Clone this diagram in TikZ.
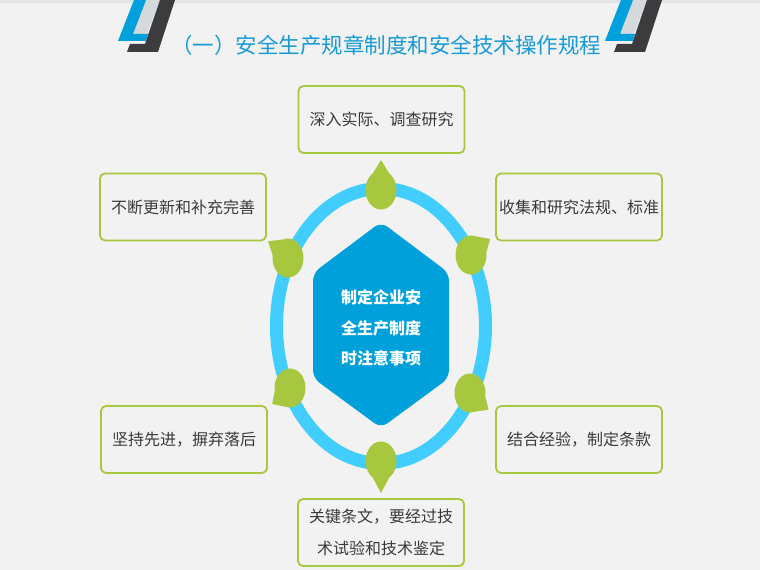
\documentclass[tikz,border=0pt]{standalone}
\usepackage{fontspec}
\newfontfamily\cjk{Noto Sans CJK SC}
\usetikzlibrary{calc}
\definecolor{bgGray}{RGB}{242,242,242}
\definecolor{stripGray}{RGB}{226,228,230}
\definecolor{markBlue}{RGB}{0,160,220}
\definecolor{markGray}{RGB}{214,217,220}
\definecolor{markDark}{RGB}{60,60,62}
\definecolor{titleBlue}{RGB}{22,155,215}
\definecolor{ringBlue}{RGB}{66,205,255}
\definecolor{hexBlue}{RGB}{0,161,218}
\definecolor{leafGreen}{RGB}{166,199,62}
\definecolor{textGray}{RGB}{58,58,58}

\begin{document}
\begin{tikzpicture}[x=1pt,y=1pt,
  rulebox/.style={draw=leafGreen, line width=1.8pt, rounded corners=5pt, fill=bgGray,
    minimum width=166pt, minimum height=67pt, inner sep=2pt, align=center,
    text=textGray, font=\cjk\fontsize{16}{32}\selectfont},
  hexlabel/.style={align=center, text=white, font=\cjk\bfseries\fontsize{16}{30.5}\selectfont}]
% Page
\fill[bgGray] (0,0) rectangle (760,570);
\useasboundingbox (0,0) rectangle (760,570);
\fill[stripGray] (0,567) rectangle (760,570);

% Corner marks (left and right of the title)
\foreach \dx in {0,487}{
  \begin{scope}[shift={(\dx,0)}]
    \fill[markGray] (143,570) -- (160,570) -- (147,536) -- (130,536) -- cycle;
    \fill[markBlue] (134,570) -- (146,570) -- (133,536) -- (148,536) -- (146,529) -- (118,529) -- cycle;
    \fill[markDark] (160,570) -- (175,570) -- (158,518) -- (127,518) -- (130,526) -- (145,526) -- cycle;
  \end{scope}
}

% Title
\node[font=\cjk\fontsize{21.5}{26}\selectfont, text=titleBlue] (title) at (386,525)
  {（一）安全生产规章制度和安全技术操作规程};

% Ring
\draw[ringBlue, line width=13pt] (381,244) ellipse [x radius=104.5, y radius=137.5];

% Hexagon
\fill[hexBlue, rounded corners=8pt] (381,348) -- (449,297) -- (449,192) -- (381,142)
  -- (313,192) -- (313,297) -- cycle;
\node[hexlabel] (hub) at (381,242) {制定企业安\\全生产制度\\时注意事项};

% Leaves on the ring
\foreach \cx/\cy/\dir/\len in {381/380/90/30, 381/109/270/32, 288/312/140/26,
    471/315/40/25, 290/182/222/24, 470/177/318/25}{
  \begin{scope}[shift={(\cx,\cy)}]
    \fill[leafGreen] (\dir:\len) -- ({\dir-32}:15.5 and 19.5) -- ({\dir+32}:15.5 and 19.5) -- cycle;
    \fill[leafGreen] (0,0) ellipse [x radius=15.5, y radius=19.5];
  \end{scope}
}

% Boxes
\node[rulebox] (study)  at (381.5,450.5) {深入实际、调查研究};
\node[rulebox] (renew)  at (183,363)     {不断更新和补充完善};
\node[rulebox] (laws)   at (579,363)     {收集和研究法规、标准};
\node[rulebox] (keep)   at (184,130.5)   {坚持先进，摒弃落后};
\node[rulebox] (clause) at (579,130.5)   {结合经验，制定条款};
\node[rulebox] (test)   at (381,37.5)    {关键条文，要经过技\\术试验和技术鉴定};
\end{tikzpicture}
\end{document}
